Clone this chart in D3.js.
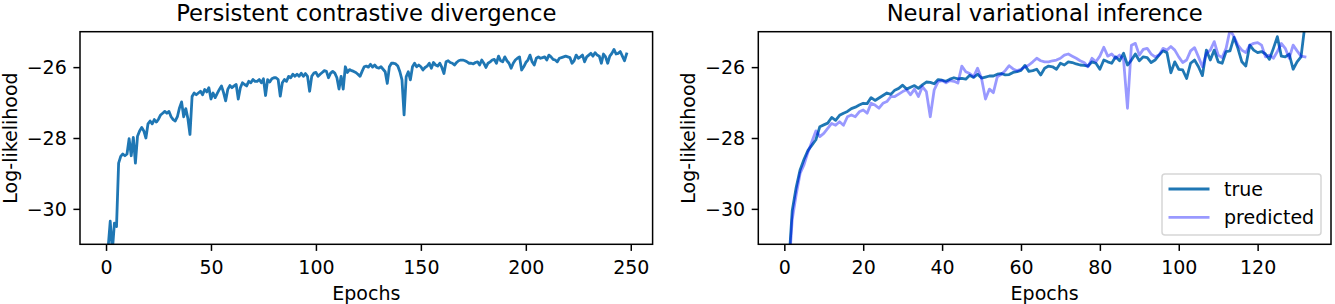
<!DOCTYPE html>
<html>
<head>
<meta charset="utf-8">
<script src="https://cdn.jsdelivr.net/npm/d3@7"></script>
<style>
  html, body { margin: 0; padding: 0; background: #fff; }
  svg { display: block; }
  text { font-family: "DejaVu Sans", sans-serif; fill: #000; }
</style>
</head>
<body>
<svg id="chart" width="1335" height="304"></svg>
<script>
// ---------------- DATA ----------------
const titles = ["Persistent contrastive divergence", "Neural variational inference"];
const xLabel = "Epochs";
const yLabel = "Log-likelihood";
const yTicks = [-30, -28, -26];
const xTicksLeft = [0, 50, 100, 150, 200, 250];
const xTicksRight = [0, 20, 40, 60, 80, 100, 120];
const legendLabels = ["true", "predicted"];

// Persistent contrastive divergence, epochs 0..248
const pcdValues = [
  -33.0, -31.1, -30.35, -31.2, -30.4, -30.5, -28.71, -28.52, -28.45, -28.5, -28.45,
  -28.02, -28.5, -27.98, -28.71, -27.95, -27.8, -27.7, -27.8, -28.0, -27.6,
  -27.52, -27.6, -27.48, -27.55, -27.47, -27.35, -27.3, -27.25, -27.3, -27.25,
  -27.4, -27.48, -27.52, -27.4, -27.15, -26.98, -27.4, -27.17, -27.45, -27.9,
  -26.83, -26.73, -26.78, -26.73, -26.68, -26.78, -26.63, -26.7, -26.58, -26.9,
  -26.73, -26.86, -26.74, -26.63, -26.53, -26.72, -26.95, -26.63, -26.52, -26.58,
  -26.53, -26.49, -26.9, -26.58, -26.44, -26.49, -26.53, -26.4, -26.44, -26.35,
  -26.4, -26.4, -26.35, -26.44, -26.33, -26.8, -26.35, -26.42, -26.33, -26.3,
  -26.3, -26.35, -26.82, -26.44, -26.35, -26.4, -26.26, -26.3, -26.2, -26.26,
  -26.2, -26.26, -26.17, -26.26, -26.18, -26.26, -26.68, -26.26, -26.17, -26.15,
  -26.26, -26.2, -26.15, -26.1, -26.12, -26.3, -26.17, -26.12, -26.17, -26.3,
  -26.62, -26.26, -26.62, -25.99, -26.15, -26.07, -26.1, -26.12, -26.15, -26.2,
  -26.26, -26.12, -25.99, -25.97, -26.0, -25.92, -26.0, -25.94, -26.01, -26.03,
  -25.99, -26.06, -26.13, -26.46, -25.99, -25.89, -25.89, -25.91, -25.97, -26.13,
  -26.36, -27.35, -26.27, -26.13, -26.36, -25.99, -25.89, -25.99, -25.94, -25.99,
  -26.08, -26.01, -25.97, -25.89, -26.03, -25.87, -25.94, -25.97, -25.89, -26.01,
  -26.18, -25.85, -25.82, -25.87, -25.89, -25.94, -25.87, -25.82, -25.80, -25.80,
  -25.82, -25.85, -25.89, -25.89, -25.91, -25.87, -25.85, -25.94, -25.80, -25.89,
  -26.01, -25.89, -25.85, -25.80, -25.78, -25.89, -25.69, -25.82, -25.85, -25.71,
  -25.82, -25.89, -26.03, -25.89, -25.80, -25.75, -25.71, -26.08, -25.99, -25.87,
  -25.80, -25.66, -25.85, -25.94, -25.75, -25.71, -25.75, -25.73, -25.71, -25.80,
  -25.66, -25.71, -25.78, -25.80, -25.85, -25.75, -25.73, -25.71, -25.69, -25.71,
  -25.73, -25.89, -25.82, -25.66, -25.75, -25.71, -25.66, -25.85, -25.71, -25.66,
  -25.61, -25.69, -25.59, -25.66, -25.69, -25.89, -25.63, -25.71, -25.89, -25.69,
  -25.61, -25.50, -25.63, -25.61, -25.56, -25.69, -25.82, -25.63
];

// Neural variational inference, epochs 0..132
const nviTrue = [
  -33.5, -31.8, -30.05, -29.4, -28.9, -28.6, -28.35, -28.2, -28.05, -27.68,
  -27.63, -27.58, -27.42, -27.5, -27.36, -27.3, -27.25, -27.17, -27.13, -27.07,
  -27.02, -27.03, -26.86, -26.94, -26.87, -26.8, -26.73, -26.77, -26.65, -26.6,
  -26.51, -26.62, -26.57, -26.52, -26.6, -26.5, -26.42, -26.43, -26.47, -26.35,
  -26.37, -26.4, -26.34, -26.3, -26.33, -26.32, -26.34, -26.23, -26.29, -26.2,
  -26.31, -26.28, -26.25, -26.25, -26.2, -26.18, -26.22, -26.21, -26.15, -26.13,
  -26.09, -25.95, -26.12, -26.1, -26.06, -26.22, -26.03, -25.97, -25.99, -26.06,
  -25.89, -25.94, -25.85, -25.87, -25.91, -25.94, -25.95, -25.97, -25.85, -25.89,
  -26.06, -25.80, -25.85, -25.89, -25.71, -25.82, -25.61, -25.94, -25.80, -25.63,
  -25.82, -25.71, -25.73, -25.87, -25.80, -25.66, -25.54, -25.59, -26.16, -25.85,
  -26.06, -26.08, -26.32, -25.89, -25.80, -25.99, -26.24, -25.52, -25.80, -25.52,
  -25.85, -25.89, -25.56, -25.54, -25.16, -25.47, -25.85, -25.97, -25.38, -25.52,
  -25.59, -25.56, -25.63, -25.78, -25.47, -25.14, -25.69, -25.71, -25.63, -26.06,
  -25.85, -25.71, -24.8
];
const nviPredicted = [
  -34.0, -32.0, -30.3, -29.6, -29.0, -28.75, -28.4, -28.1, -27.8, -27.96,
  -27.87, -27.73, -27.59, -27.64, -27.54, -27.64, -27.4, -27.35, -27.4, -27.26,
  -27.21, -27.3, -27.02, -27.07, -27.16, -27.02, -26.97, -26.83, -26.83, -26.76,
  -26.69, -26.64, -26.78, -26.62, -26.83, -26.55, -26.69, -27.4, -26.64, -26.41,
  -26.38, -26.44, -26.38, -26.4, -26.45, -25.97, -26.13, -26.18, -26.27, -26.03,
  -26.32, -26.9, -26.62, -26.72, -26.27, -26.2, -26.1, -25.96, -26.05, -26.1,
  -26.06, -26.0, -25.94, -25.85, -25.75, -25.82, -25.85, -25.85, -25.82, -25.80,
  -25.75, -25.66, -25.63, -25.69, -25.75, -25.82, -25.87, -25.99, -25.75, -25.85,
  -25.69, -25.44, -25.69, -25.63, -25.75, -25.66, -25.78, -27.16, -25.38, -25.33,
  -25.66, -25.50, -25.47, -25.63, -25.71, -25.66, -25.47, -25.52, -25.42, -25.52,
  -25.71, -25.87, -25.80, -25.54, -25.45, -25.71, -25.99, -25.61, -25.52, -25.28,
  -25.66, -25.73, -25.47, -24.95, -25.14, -25.38, -25.52, -25.59, -25.38, -25.33,
  -25.31, -25.38, -25.71, -25.66, -25.75, -25.56, -25.33, -25.47, -25.75, -25.38,
  -25.54, -25.69, -25.71
];

// ---------------- LAYOUT ----------------
const svg = d3.select("#chart");
const FONT = 19;
const TITLE_FONT = 22.7;
const TICK_LEN = 6.6;
const TICK_PAD = 6.6;
const axTop = 31.7, axBottom = 244.3;
const yDomain = [-31, -25];

function margins(n) { // matplotlib 5% margin
  const span = n - 1;
  return [-0.05 * span, span + 0.05 * span];
}

function drawPanel(opts) {
  const { left, right, title, series, xTicks, id } = opts;
  const g = svg.append("g");
  const n = series[0].values.length;
  const x = d3.scaleLinear().domain(margins(n)).range([left, right]);
  const y = d3.scaleLinear().domain(yDomain).range([axBottom, axTop]);

  svg.append("defs").append("clipPath").attr("id", id)
    .append("rect").attr("x", left).attr("y", axTop)
    .attr("width", right - left).attr("height", axBottom - axTop);

  const line = d3.line().x((d, i) => x(i)).y(d => y(d));
  const lg = g.append("g").attr("clip-path", `url(#${id})`);
  series.forEach(s => {
    lg.append("path")
      .datum(s.values)
      .attr("d", line)
      .attr("fill", "none")
      .attr("stroke", s.color)
      .attr("stroke-opacity", s.opacity)
      .attr("stroke-width", 2.8)
      .attr("stroke-linejoin", "round")
      .attr("stroke-linecap", "square");
  });

  const xa = g.append("g").attr("transform", `translate(0,${axBottom})`)
    .call(d3.axisBottom(x).tickValues(xTicks).tickFormat(d3.format("d"))
      .tickSize(TICK_LEN).tickSizeOuter(0).tickPadding(TICK_PAD));
  xa.select(".domain").remove();
  xa.selectAll(".tick line").attr("stroke", "#000").attr("stroke-width", 1.5);
  xa.selectAll(".tick text").attr("font-size", FONT).attr("font-family", "DejaVu Sans")
    .attr("y", 29.7).attr("dy", null).attr("fill", "#000");

  const ya = g.append("g").attr("transform", `translate(${left},0)`)
    .call(d3.axisLeft(y).tickValues(yTicks).tickFormat(d3.format("d"))
      .tickSize(TICK_LEN).tickSizeOuter(0).tickPadding(TICK_PAD));
  ya.select(".domain").remove();
  ya.selectAll(".tick line").attr("stroke", "#000").attr("stroke-width", 1.5);
  ya.selectAll(".tick text").attr("font-size", FONT).attr("font-family", "DejaVu Sans")
    .attr("dy", "0.36em").attr("fill", "#000");

  g.append("rect").attr("x", left).attr("y", axTop)
    .attr("width", right - left).attr("height", axBottom - axTop)
    .attr("fill", "none").attr("stroke", "#000").attr("stroke-width", 1.5);

  const cx = (left + right) / 2;
  g.append("text").attr("x", cx).attr("y", 21).attr("text-anchor", "middle")
    .attr("font-size", TITLE_FONT).text(title);
  g.append("text").attr("x", cx).attr("y", 299.5).attr("text-anchor", "middle")
    .attr("font-size", FONT).text(xLabel);
  g.append("text")
    .attr("transform", `translate(${left - 63.5},${(axTop + axBottom) / 2}) rotate(-90)`)
    .attr("text-anchor", "middle").attr("font-size", FONT).text(yLabel);
  return { g, x, y };
}

drawPanel({
  id: "clipL", left: 80, right: 652.6, title: titles[0], xTicks: xTicksLeft,
  series: [{ values: pcdValues, color: "#1f77b4", opacity: 1 }]
});

drawPanel({
  id: "clipR", left: 758.3, right: 1331, title: titles[1], xTicks: xTicksRight,
  series: [
    { values: nviTrue, color: "#1f77b4", opacity: 1 },
    { values: nviPredicted, color: "#0000ff", opacity: 0.4 }
  ]
});

// legend
const lgd = svg.append("g");
lgd.append("rect").attr("x", 1162).attr("y", 174).attr("width", 159).attr("height", 61)
  .attr("rx", 3).attr("fill", "#fff").attr("fill-opacity", 0.8)
  .attr("stroke", "#d6d6d6").attr("stroke-width", 1.5);
const legendStyles = [
  { color: "#1f77b4", opacity: 1, y: 189 },
  { color: "#0000ff", opacity: 0.4, y: 217.3 }
];
legendLabels.forEach((lab, i) => {
  const s = legendStyles[i];
  lgd.append("line").attr("x1", 1168.5).attr("x2", 1209.5).attr("y1", s.y).attr("y2", s.y)
    .attr("stroke", s.color).attr("stroke-opacity", s.opacity).attr("stroke-width", 2.8);
  lgd.append("text").attr("x", 1224).attr("y", s.y + 7).attr("font-size", FONT).text(lab);
});
</script>
</body>
</html>
